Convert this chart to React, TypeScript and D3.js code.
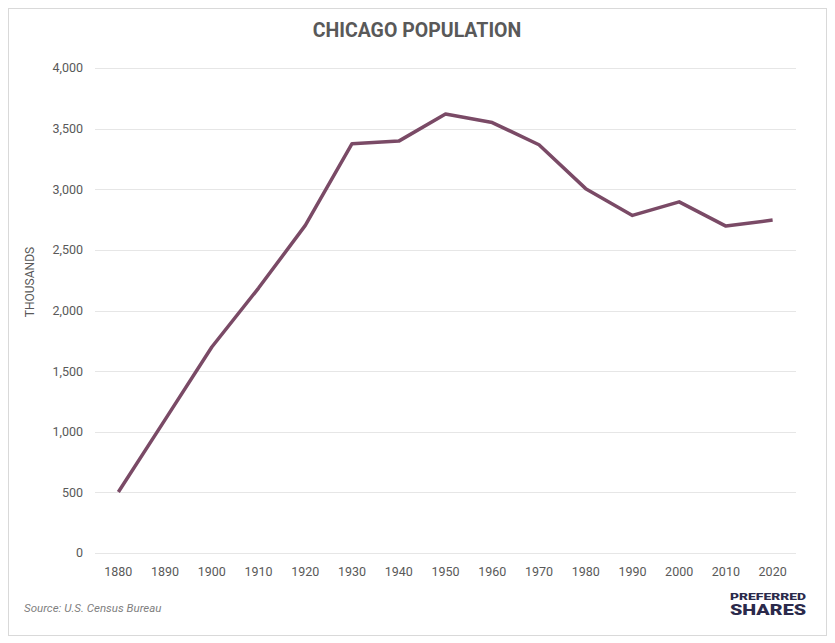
import React, { useEffect, useRef } from 'react';
import * as d3 from 'd3';

const years = [1880, 1890, 1900, 1910, 1920, 1930, 1940, 1950, 1960, 1970, 1980, 1990, 2000, 2010, 2020];
const population = [503, 1100, 1699, 2185, 2702, 3376, 3397, 3621, 3550, 3367, 3005, 2784, 2896, 2696, 2746];
const yTicks = [0, 500, 1000, 1500, 2000, 2500, 3000, 3500, 4000];

const W = 835;
const H = 643;
const FONT = "Roboto, 'Noto Sans', sans-serif";

const App: React.FC = () => {
  const svgRef = useRef<SVGSVGElement>(null);

  useEffect(() => {
    if (!svgRef.current) return;
    const svg = d3.select(svgRef.current);
    svg.selectAll('*').remove();

    const left = 95, right = 796, top = 68, bottom = 553;

    // outer frame
    svg.append('rect')
      .attr('x', 8.5).attr('y', 8.5)
      .attr('width', 818).attr('height', 627)
      .attr('fill', '#fff')
      .attr('stroke', '#d9d9d9');

    const x = d3.scalePoint<number>().domain(years).range([left, right]).padding(0.5);
    const y = d3.scaleLinear().domain([0, 4000]).range([bottom, top]);

    // gridlines
    svg.append('g')
      .selectAll('line')
      .data(yTicks)
      .join('line')
      .attr('x1', left).attr('x2', right)
      .attr('y1', d => Math.round(y(d)) + 0.5)
      .attr('y2', d => Math.round(y(d)) + 0.5)
      .attr('stroke', '#e6e6e6')
      .attr('stroke-width', 1);

    // y tick labels
    svg.append('g')
      .selectAll('text')
      .data(yTicks)
      .join('text')
      .attr('x', 83)
      .attr('y', d => y(d))
      .attr('dy', '0.35em')
      .attr('text-anchor', 'end')
      .style('font-family', FONT)
      .style('font-size', '12.5px')
      .style('fill', '#595959')
      .text(d => d3.format(',')(d));

    // x tick labels
    svg.append('g')
      .selectAll('text')
      .data(years)
      .join('text')
      .attr('x', d => x(d)!)
      .attr('y', 576)
      .attr('text-anchor', 'middle')
      .style('font-family', FONT)
      .style('font-size', '12.5px')
      .style('fill', '#595959')
      .text(d => String(d));

    // line
    const line = d3.line<number>()
      .x((_, i) => x(years[i])!)
      .y(d => y(d));

    svg.append('path')
      .datum(population)
      .attr('d', line)
      .attr('fill', 'none')
      .attr('stroke', '#7a4a66')
      .attr('stroke-width', 3.5)
      .attr('stroke-linejoin', 'round');

    // title
    svg.append('text')
      .attr('x', 417)
      .attr('y', 37)
      .attr('text-anchor', 'middle')
      .style('font-family', FONT)
      .style('font-size', '19.5px')
      .style('font-weight', 'bold')
      .style('fill', '#595959')
      .text('CHICAGO POPULATION');

    // y axis title
    svg.append('text')
      .attr('transform', 'translate(34,282) rotate(-90)')
      .attr('text-anchor', 'middle')
      .style('font-family', FONT)
      .style('font-size', '12px')
      .style('fill', '#595959')
      .text('THOUSANDS');

    // source
    svg.append('text')
      .attr('x', 24)
      .attr('y', 612)
      .style('font-family', FONT)
      .style('font-size', '11.5px')
      .style('font-style', 'italic')
      .style('fill', '#7f7f7f')
      .text('Source: U.S. Census Bureau');

    // logo
    svg.append('text')
      .attr('x', 730)
      .attr('y', 600)
      .attr('textLength', 76)
      .attr('lengthAdjust', 'spacingAndGlyphs')
      .style('font-family', FONT)
      .style('font-size', '9px')
      .style('font-weight', '900')
      .style('fill', '#2b2a4b')
      .text('PREFERRED');
    svg.append('text')
      .attr('x', 730)
      .attr('y', 615)
      .attr('textLength', 76)
      .attr('lengthAdjust', 'spacingAndGlyphs')
      .style('font-family', FONT)
      .style('font-size', '14px')
      .style('font-weight', '900')
      .style('fill', '#2b2a4b')
      .text('SHARES');
  }, []);

  return (
    <svg
      ref={svgRef}
      width={W}
      height={H}
      style={{ position: 'absolute', left: 0, top: 0, display: 'block' }}
    />
  );
};

export default App;
